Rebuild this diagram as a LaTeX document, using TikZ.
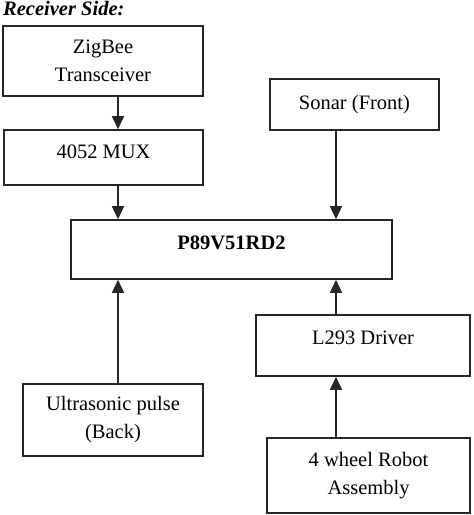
\documentclass[tikz,border=0pt]{standalone}
\usepackage{fontspec}
\setmainfont{Liberation Serif}
\usetikzlibrary{arrows.meta}
\begin{document}
\begin{tikzpicture}[x=1pt,y=-1pt,
  box/.style={draw=black!85, line width=1.6pt, inner sep=0pt, align=center,
    font=\fontsize{20.5}{28}\selectfont},
  oneline/.style={box, text height=14pt},
  arr/.style={draw=black!85, line width=1.6pt, -{Triangle[length=13pt,width=12pt]}},
  title/.style={font=\fontsize{20.5}{26}\selectfont\bfseries\itshape, anchor=base west, inner sep=0pt}]
\useasboundingbox (0,0) rectangle (474,515);
\node[title] (t) at (3,15) {Receiver Side:};
\node[box, minimum width=200pt, minimum height=70pt] (zig) at (103,61) {ZigBee\\Transceiver};
\node[oneline, minimum width=199pt, minimum height=55pt, text depth=12pt] (mux) at (103.5,157.5) {4052 MUX};
\node[oneline, minimum width=169pt, minimum height=51pt, text depth=4pt] (sonar) at (354.5,104.5) {Sonar (Front)};
\node[oneline, minimum width=321pt, minimum height=59pt, text depth=15pt, font=\fontsize{20.5}{28}\selectfont\bfseries] (mcu) at (231.5,249.5) {P89V51RD2};
\node[oneline, minimum width=214pt, minimum height=61pt, text depth=16pt] (l293) at (363,345.5) {L293 Driver};
\node[box, minimum width=180pt, minimum height=72pt] (ultra) at (113,420) {Ultrasonic pulse\\(Back)};
\node[box, minimum width=203pt, minimum height=75pt] (robot) at (368.5,475.5) {4 wheel Robot\\Assembly};
\coordinate (L) at (118,0);
\coordinate (R) at (336,0);
\draw[arr] (zig.south -| L) -- (mux.north -| L);
\draw[arr] (mux.south -| L) -- (mcu.north -| L);
\draw[arr] (sonar.south -| R) -- (mcu.north -| R);
\draw[arr] (ultra.north -| L) -- (mcu.south -| L);
\draw[arr] (l293.north -| R) -- (mcu.south -| R);
\draw[arr] (robot.north -| R) -- (l293.south -| R);
\end{tikzpicture}
\end{document}
